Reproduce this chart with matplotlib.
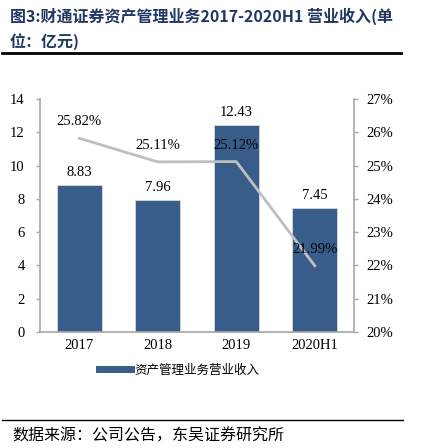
import matplotlib.pyplot as plt
from matplotlib.lines import Line2D

plt.rcParams['font.family'] = ['Liberation Serif', 'Noto Sans CJK SC']

years = ["2017", "2018", "2019", "2020H1"]
revenue = [8.83, 7.96, 12.43, 7.45]
share = [25.82, 25.11, 25.12, 21.99]

bar_color = "#385D8A"
line_color = "#BFBFBF"
axis_color = "#A6A6A6"
title_color = "#1F3864"

fig = plt.figure(figsize=(4.37, 4.48), dpi=100)
ax = fig.add_axes([40 / 437, 1 - 332 / 448, 314 / 437, 233 / 448])
ax2 = ax.twinx()

x = list(range(len(years)))
ax.bar(x, revenue, width=0.57, color=bar_color, edgecolor="#D9D9D9",
       linewidth=0.6, zorder=2)
for xi, v in zip(x, revenue):
    ax.text(xi, v + 0.35, f"{v:.2f}", ha="center", va="bottom", fontsize=10.5)

ax2.plot(x, share, color=line_color, linewidth=2, zorder=3)
for xi, v in zip(x, share):
    ax2.text(xi, v + 0.3, f"{v:.2f}%", ha="center", va="bottom", fontsize=10.5)

ax.set_xlim(-0.5, 3.5)
ax.set_ylim(0, 14)
ax.set_yticks(range(0, 15, 2))
ax2.set_ylim(20, 27)
ax2.set_yticks(range(20, 28))
ax2.set_yticklabels([f"{t}%" for t in range(20, 28)])
ax.set_xticks(x)
ax.set_xticklabels(years)

ax.set_zorder(ax2.get_zorder() - 1)
ax.patch.set_visible(False)
ax2.patch.set_visible(False)

for a in (ax, ax2):
    for s in a.spines.values():
        s.set_visible(False)
    a.tick_params(labelsize=10.5, colors="black", color=axis_color, length=3, width=1)
ax.spines["left"].set_visible(True)
ax.spines["bottom"].set_visible(True)
ax2.spines["right"].set_visible(True)
for s in (ax.spines["left"], ax.spines["bottom"], ax2.spines["right"]):
    s.set_color(axis_color)
    s.set_linewidth(1.2)
ax.tick_params(axis="x", length=0, pad=5)
ax.tick_params(axis="y", pad=8)
ax2.tick_params(axis="y", pad=6)

handle = Line2D([], [], color=bar_color, linewidth=5)
fig.legend([handle], ["资产管理业务营业收入"], loc="center left",
           bbox_to_anchor=(88 / 437, 1 - 370 / 448),
           frameon=False, prop={"family": "Noto Sans CJK SC", "size": 9},
           handlelength=2.5, handletextpad=0.3)

title_font = dict(fontsize=11.5, fontweight="bold", color=title_color,
                  family="Noto Sans CJK SC", va="center")
fig.text(10 / 437, 1 - 16 / 448, "图3:财通证券资产管理业务2017-2020H1 营业收入(单", **title_font)
fig.text(10 / 437, 1 - 42 / 448, "位：亿元)", **title_font)
fig.add_artist(Line2D([2 / 437, 401 / 437], [1 - 53 / 448, 1 - 53 / 448], color="black", linewidth=2))
fig.add_artist(Line2D([2 / 437, 403 / 437], [1 - 420 / 448, 1 - 420 / 448], color="black", linewidth=1))
fig.text(12 / 437, 1 - 436 / 448, "数据来源：公司公告，东吴证券研究所", fontsize=11.5,
         family="Noto Sans CJK SC", va="center")

fig.savefig("out.png", dpi=100)
